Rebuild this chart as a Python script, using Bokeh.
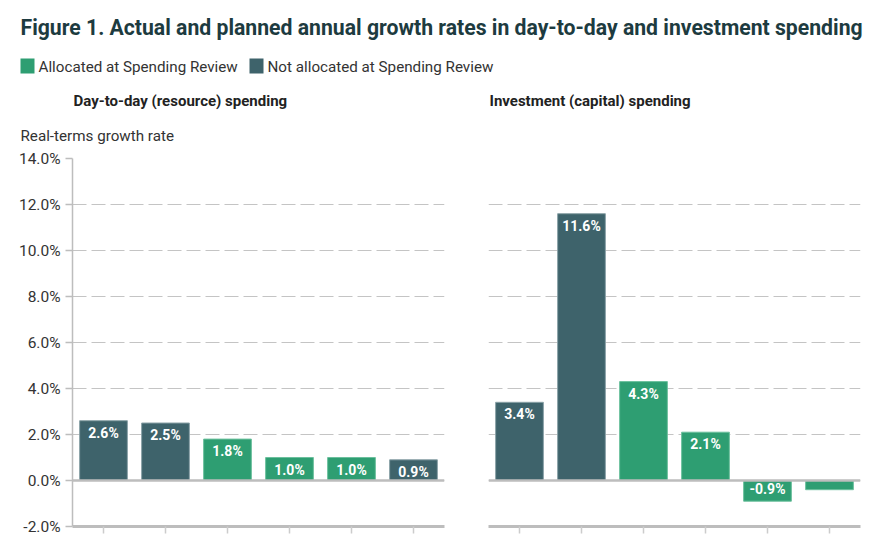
from bokeh.plotting import figure
from bokeh.layouts import column, row
from bokeh.models import (Range1d, FactorRange, FixedTicker, PrintfTickFormatter, Span,
                          ColumnDataSource, CustomLabelingPolicy)
from bokeh.core.properties import value
from bokeh.embed import file_html
from bokeh.resources import INLINE

# ---- data -------------------------------------------------------------
periods = ["p1", "p2", "p3", "p4", "p5", "p6"]
resource_growth = [2.6, 2.5, 1.8, 1.0, 1.0, 0.9]
resource_allocated = [False, False, True, True, True, False]
capital_growth = [3.4, 11.6, 4.3, 2.1, -0.9, -0.4]
capital_allocated = [False, False, True, True, True, True]
y_ticks = [-2, 0, 2, 4, 6, 8, 10, 12, 14]

series_names = ["Allocated at Spending Review", "Not allocated at Spending Review"]
panel_titles = ["Day-to-day (resource) spending", "Investment (capital) spending"]
chart_title = "Figure 1. Actual and planned annual growth rates in day-to-day and investment spending"
y_title = "Real-terms growth rate"

# ---- style ------------------------------------------------------------
FONT = "Roboto"
GREEN, GREEN_EDGE = "#2e9e72", "#6cc09d"
DARK, DARK_EDGE = "#3e636b", "#8aa2a7"
GRID = "#c4c4c4"
AXIS = "#bdbdbd"
TEXT = "#333333"
TITLE = "#1d3b40"

W, H = 890, 536
HEADER_H = 145


def header():
    p = figure(width=W, height=HEADER_H, x_range=Range1d(0, W), y_range=Range1d(HEADER_H, 0),
               output_backend="svg", toolbar_location=None, min_border=0)
    p.axis.visible = False
    p.grid.visible = False
    p.outline_line_color = None
    p.text(x=[20], y=[27], text=[chart_title], text_font=value(FONT), text_font_size="21.2px",
           text_font_style="bold", text_color=TITLE, text_baseline="middle")
    # legend swatches and names
    p.quad(left=[20, 249], right=[34, 263], top=[58, 58], bottom=[73, 73],
           fill_color=[GREEN, DARK], line_color=None)
    p.text(x=[38, 267], y=[66, 66], text=series_names, text_font=value(FONT),
           text_font_size="15.2px", text_color=TEXT, text_baseline="middle")
    # panel titles
    p.text(x=[73, 489], y=[100, 100], text=panel_titles, text_font=value(FONT),
           text_font_size="15px", text_font_style="bold", text_color="#222222",
           text_baseline="middle")
    p.text(x=[20], y=[135], text=[y_title], text_font=value(FONT), text_font_size="15.2px",
           text_color=TEXT, text_baseline="middle")
    return p


def panel(values, allocated, show_y, width, left, right):
    fills = [GREEN if a else DARK for a in allocated]
    edges = [GREEN_EDGE if a else DARK_EDGE for a in allocated]
    src = ColumnDataSource(dict(x=periods, top=values, fill=fills, edge=edges))
    p = figure(width=width, height=H - HEADER_H, x_range=FactorRange(*periods),
               y_range=Range1d(-2, 14), output_backend="svg", toolbar_location=None,
               min_border_top=13, min_border_bottom=10, min_border_left=left,
               min_border_right=right)
    p.outline_line_color = None
    p.xgrid.visible = False
    p.ygrid.ticker = FixedTicker(ticks=y_ticks)
    p.ygrid.grid_line_color = GRID
    p.ygrid.grid_line_dash = "14 5"
    p.ygrid.grid_line_width = 1.2

    p.yaxis.ticker = FixedTicker(ticks=y_ticks)
    p.yaxis.formatter = PrintfTickFormatter(format="%.1f%%")
    p.yaxis.axis_line_color = AXIS
    p.yaxis.axis_line_width = 1.5
    p.yaxis.major_tick_line_color = AXIS
    p.yaxis.major_tick_line_width = 1.5
    p.yaxis.major_tick_in = 0
    p.yaxis.major_tick_out = 7
    p.yaxis.minor_tick_line_color = None
    p.yaxis.major_label_standoff = 5
    p.yaxis.major_label_text_font = FONT
    p.yaxis.major_label_text_font_size = "15.5px"
    p.yaxis.major_label_text_color = TEXT
    p.yaxis.visible = show_y

    # bottom axis: line and ticks only, the period names are not shown
    p.xaxis.axis_line_color = AXIS
    p.xaxis.axis_line_width = 3
    p.xaxis.major_tick_line_color = "#cccccc"
    p.xaxis.major_tick_line_width = 1.5
    p.xaxis.major_tick_in = 0
    p.xaxis.major_tick_out = 7
    p.xaxis.major_label_text_font_size = "0px"
    p.xaxis.major_label_standoff = 0
    p.xaxis.major_label_policy = CustomLabelingPolicy(
        code="for (const i of Array.from(indices)) indices.unset(i)")

    p.vbar(x="x", top="top", bottom=0, width=0.77, source=src,
           fill_color="fill", line_color="edge", line_width=1)
    p.add_layout(Span(location=0, dimension="width", line_color=AXIS, line_width=2.5))

    # value labels sit inside the bar end; tiny bars stay unlabelled
    lab = [(x, v) for x, v in zip(periods, values) if abs(v) >= 0.5]
    lx = [x for x, _ in lab]
    ly = [v for _, v in lab]
    offs = [12 if v > 0 else -12 for v in ly]
    p.text(x=lx, y=ly, text=[f"{v:.1f}%" for v in ly], y_offset=offs,
           text_font=value(FONT), text_font_size="14px", text_font_style="bold",
           text_color="white", text_align="center", text_baseline="middle")
    return p


left = panel(resource_growth, resource_allocated, True, 466, 72, 22)
right = panel(capital_growth, capital_allocated, False, 424, 22, 30)

layout = column(header(), row(left, right, spacing=0), spacing=0)
open("out.html", "w").write(file_html(layout, INLINE))
